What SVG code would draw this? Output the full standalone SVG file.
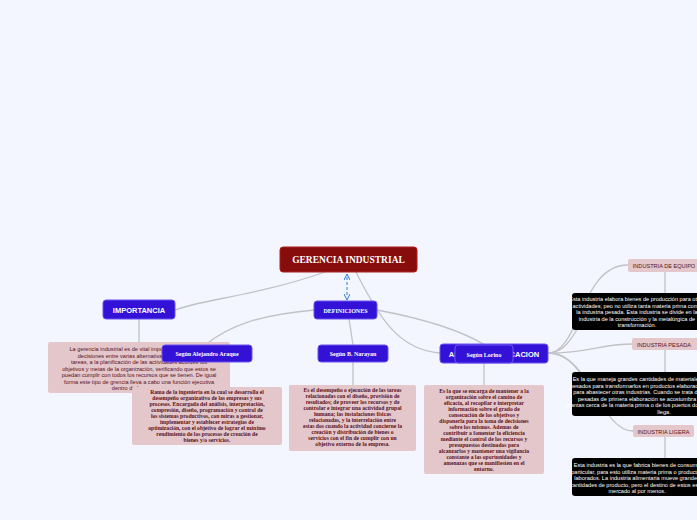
<svg xmlns="http://www.w3.org/2000/svg" width="697" height="520" viewBox="0 0 697 520">
<defs>
<style>
.bg{fill:#f3f6fe}
.blue{fill:#3311d6;stroke:#6a55f0;stroke-width:1}
.pink{fill:#e4c7ca}
.blk{fill:#000}
.ln{fill:none;stroke:#c2c2c6;stroke-width:1.3}
.tw{font-family:"Liberation Serif",serif;font-weight:bold;fill:#fff;text-anchor:middle}
.ts{font-family:"Liberation Sans",sans-serif;font-weight:bold;fill:#fff;text-anchor:middle}
.tp{font-family:"Liberation Serif",serif;font-weight:bold;fill:#5a1020;font-size:5.6px;text-anchor:middle}
.tq{font-family:"Liberation Sans",sans-serif;fill:#5a1020;font-size:5.6px;text-anchor:middle}
.tb{font-family:"Liberation Sans",sans-serif;fill:#fff;font-size:5.6px;text-anchor:middle}
</style>
<marker id="ar" markerWidth="6" markerHeight="6" refX="3" refY="3" orient="auto-start-reverse"><path d="M0,0 L6,3 L0,6" fill="none" stroke="#2a7ad8" stroke-width="1"/></marker>
</defs>
<rect class="bg" width="697" height="520"/>
<g id="connectors">
<path class="ln" d="M325,272 C260,295 200,300 175,310"/>
<path class="ln" d="M356,272 C380,320 400,350 440,353"/>
<path class="ln" d="M314,310 C260,315 230,325 205,345"/>
<path class="ln" d="M349,319 L353,345"/>
<path class="ln" d="M377,310 C420,318 460,330 485,345"/>
<path class="ln" d="M139,319 L139,342"/>
<path class="ln" d="M207,362 L207,387"/>
<path class="ln" d="M353,362 L353,385"/>
<path class="ln" d="M484,363 L484,385"/>
<path class="ln" d="M548,353 C580,353 580,265 628,265"/>
<path class="ln" d="M548,353 C590,353 600,344 632,344"/>
<path class="ln" d="M548,353 C590,353 600,431 633,431"/>
<path class="ln" d="M548,353 C575,353 580,310 600,300"/>
<path class="ln" d="M548,353 C575,353 580,380 600,395"/>
<path class="ln" d="M665,272 L665,293"/>
<path class="ln" d="M665,350 L665,372"/>
<path class="ln" d="M665,437 L665,458"/>
<path d="M347,277 L347,297" fill="none" stroke="#2a7ad8" stroke-width="1" stroke-dasharray="3,2" marker-start="url(#ar)" marker-end="url(#ar)"/>
</g>
<g id="root"><rect x="280" y="247" width="137" height="25" rx="3" fill="#870c0c" stroke="#b02020"/><text class="tw" x="348.5" y="263" font-size="9.5">GERENCIA INDUSTRIAL</text></g>
<g id="importancia"><rect class="blue" x="103" y="300" width="72" height="19" rx="3"/><text class="ts" x="139" y="312.5" font-size="7.5">IMPORTANCIA</text></g>
<g id="importancia-text"><rect class="pink" x="48" y="342" width="182" height="51" rx="2"/>
<text class="tq" x="139" y="351">La gerencia industrial es de vital importancia para tomar</text>
<text class="tq" x="139" y="357.5">decisiones entre varias alternativas, organizar las</text>
<text class="tq" x="139" y="364">tareas, a la planificación de las actividades acordes los</text>
<text class="tq" x="139" y="370.5">objetivos y metas de la organización, verificando que estos se</text>
<text class="tq" x="139" y="377">puedan cumplir con todos los recursos que se tienen. De igual</text>
<text class="tq" x="139" y="383.5">forma este tipo de grencia lleva a cabo una función ejecutiva</text>
<text class="tq" x="139" y="390">dentro de la empresa.</text></g>
<g id="definiciones"><rect class="blue" x="314" y="301" width="63" height="18" rx="3"/><text class="tw" x="345.5" y="312.5" font-size="6">DEFINICIONES</text></g>
<g id="ambito"><rect class="blue" x="440" y="344" width="108" height="19" rx="3"/><text class="ts" x="494" y="356.5" font-size="7.5">AMBITO DE APLICACION</text></g>
<g id="araque"><rect class="blue" x="162" y="345" width="90" height="17" rx="3"/><text class="tw" x="207" y="356" font-size="6">Según Alejandro Araque</text></g>
<g id="araque-text"><rect class="pink" x="132" y="387" width="150" height="58" rx="2"/>
<text class="tp" x="207" y="393.5">Rama de la ingeniería en la cual se desarrolla el</text>
<text class="tp" x="207" y="399.5">desempeño organizativo de las empresas y sus</text>
<text class="tp" x="207" y="405.5">procesos. Encargada del análisis, interpretación,</text>
<text class="tp" x="207" y="411.5">compresión, diseño, programación y control de</text>
<text class="tp" x="207" y="417.5">los sistemas productivos, con miras a gestionar,</text>
<text class="tp" x="207" y="423.5">implementar y establecer estrategias de</text>
<text class="tp" x="207" y="429.5">optimización, con el objetivo de lograr el máximo</text>
<text class="tp" x="207" y="435.5">rendimiento de los procesos de creación de</text>
<text class="tp" x="207" y="441.5">bienes y/o servicios.</text></g>
<g id="narayan"><rect class="blue" x="318" y="345" width="70" height="17" rx="3"/><text class="tw" x="353" y="356" font-size="6">Según B. Narayan</text></g>
<g id="narayan-text"><rect class="pink" x="289" y="385" width="127" height="66" rx="2"/>
<text class="tp" x="352.5" y="392">Es el desempeño o ejecución de las tareas</text>
<text class="tp" x="352.5" y="398">relacionadas con el diseño, provisión de</text>
<text class="tp" x="352.5" y="404">resultados; de proveer los recursos y de</text>
<text class="tp" x="352.5" y="410">controlar e integrar una actividad grupal</text>
<text class="tp" x="352.5" y="416">humana; las instalaciones físicas</text>
<text class="tp" x="352.5" y="422">relacionadas, y la interrelación entre</text>
<text class="tp" x="352.5" y="428">estas dos cuando la actividad concierne la</text>
<text class="tp" x="352.5" y="434">creación y distribución de bienes o</text>
<text class="tp" x="352.5" y="440">servicios con el fin de cumplir con un</text>
<text class="tp" x="352.5" y="446">objetivo externo de la empresa.</text></g>
<g id="lorino"><rect class="blue" x="455" y="345" width="58" height="18" rx="3"/><text class="tw" x="484" y="356.5" font-size="6">Según Lorino</text></g>
<g id="lorino-text"><rect class="pink" x="424" y="385" width="120" height="89" rx="2"/>
<text class="tp" x="484" y="392.5">Es la que se encarga de mantener a la</text>
<text class="tp" x="484" y="398.5">organización sobre el camino de</text>
<text class="tp" x="484" y="404.5">eficacia, al recopilar e interpretar</text>
<text class="tp" x="484" y="410.5">información sobre el grado de</text>
<text class="tp" x="484" y="416.5">consecución de los objetivos y</text>
<text class="tp" x="484" y="422.5">disponerla para la toma de decisiones</text>
<text class="tp" x="484" y="428.5">sobre los mismos. Ademas de</text>
<text class="tp" x="484" y="434.5">contribuir a fomentar la eficiencia</text>
<text class="tp" x="484" y="440.5">mediante el control de los recursos y</text>
<text class="tp" x="484" y="446.5">presupuestos destinados para</text>
<text class="tp" x="484" y="452.5">alcanzarlos y mantener una vigilancia</text>
<text class="tp" x="484" y="458.5">constante a las oportunidades y</text>
<text class="tp" x="484" y="464.5">amenazas que se manifiesten en el</text>
<text class="tp" x="484" y="470.5">entorno.</text></g>
<g id="equipo"><rect class="pink" x="628" y="259" width="72" height="13" rx="2"/><text class="tq" x="664" y="267.5">INDUSTRIA DE EQUIPO</text></g>
<g id="equipo-text"><rect class="blk" x="572" y="293" width="130" height="37" rx="3"/>
<text class="tb" x="637" y="301">Esta industria elabora bienes de producción para otras</text>
<text class="tb" x="637" y="307.5">actividades, peo no utiliza tanta materia prima como</text>
<text class="tb" x="637" y="314">la industria pesada. Esta industria se divide en la</text>
<text class="tb" x="637" y="320.5">industria de la construcción y la metalúrgica de</text>
<text class="tb" x="637" y="327">transformación.</text></g>
<g id="pesada"><rect class="pink" x="632" y="338" width="68" height="12" rx="2"/><text class="tq" x="664" y="346.5">INDUSTRIA PESADA</text></g>
<g id="pesada-text"><rect class="blk" x="572" y="372" width="130" height="44" rx="3"/>
<text class="tb" x="637" y="381">Es la que maneja grandes cantidades de materiales</text>
<text class="tb" x="637" y="387.5">pesados para transformarlos en productos elaborados</text>
<text class="tb" x="637" y="394">para abastecer otras industrias. Cuando se trata de</text>
<text class="tb" x="637" y="400.5">pesadas de primera elaboración se acostumbra</text>
<text class="tb" x="637" y="407">plantas cerca de la materia prima o de los puertos donde</text>
<text class="tb" x="664" y="413.5">llega.</text></g>
<g id="ligera"><rect class="pink" x="633" y="425" width="61" height="12" rx="2"/><text class="tq" x="663.5" y="433.5">INDUSTRIA LIGERA</text></g>
<g id="ligera-text"><rect class="blk" x="572" y="458" width="130" height="38" rx="3"/>
<text class="tb" x="637" y="467">Esta industria es la que fabrica bienes de consumo</text>
<text class="tb" x="637" y="473.5">particular, para esto utiliza materia prima o productos</text>
<text class="tb" x="637" y="480">laborados. La industria alimentaria mueve grandes</text>
<text class="tb" x="637" y="486.5">cantidades de producto, pero el destino de estos es el</text>
<text class="tb" x="637" y="493">mercado al por menos.</text></g>
</svg>
